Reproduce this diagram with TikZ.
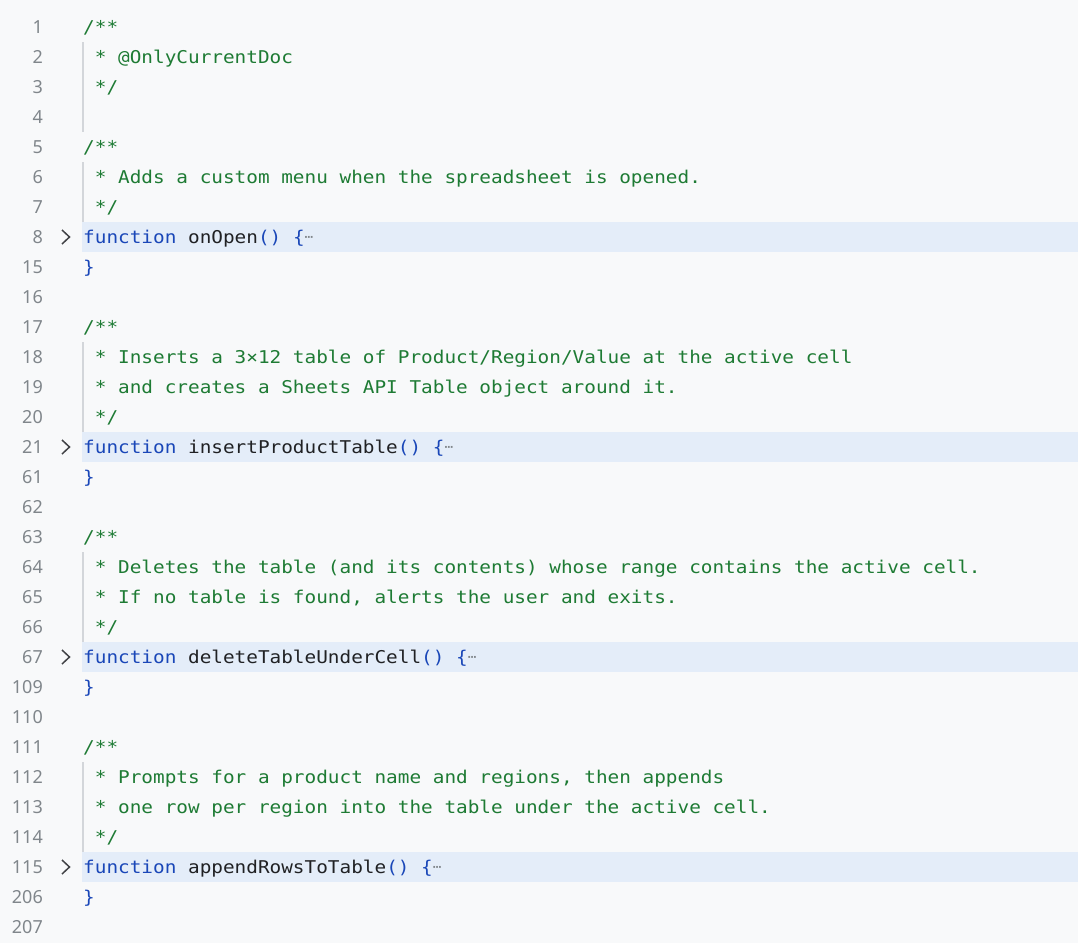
\documentclass[tikz,border=0pt]{standalone}
\usepackage{fontspec}
\newfontfamily\code[FakeStretch=1.1]{DejaVu Sans Mono}
\newfontfamily\nums{Noto Sans}
\definecolor{bg}{HTML}{F8F9FA}
\definecolor{hl}{HTML}{E4EDF9}
\definecolor{cm}{HTML}{1E7B34}
\definecolor{kw}{HTML}{1A47B8}
\definecolor{nm}{HTML}{202124}
\definecolor{ln}{HTML}{80868B}
\definecolor{gd}{HTML}{D3D6DA}
\begin{document}
\begin{tikzpicture}[x=1pt,y=-1pt,
  codetxt/.style={anchor=base west,inner sep=0pt,font=\code\fontsize{17.6}{20}\selectfont,text=cm},
  numtxt/.style={anchor=base east,inner sep=0pt,font=\nums\fontsize{18}{20}\selectfont,text=ln},
  guide/.style={draw=gd,line width=1.5pt},
  chev/.style={draw=nm!85,line width=1.5pt}]
\useasboundingbox[fill=bg] (0,0) rectangle (1078,943);
\foreach \k in {7,14,21,28}{\fill[hl] (82,{27+30*\k-15}) rectangle (1078,{27+30*\k+15});}
\draw[guide] (83,42) -- (83,132);
\draw[guide] (83,162) -- (83,222);
\draw[guide] (83,342) -- (83,432);
\draw[guide] (83,552) -- (83,642);
\draw[guide] (83,762) -- (83,852);
\newcommand\fn[1]{{\color{kw}function} {\color{nm}#1}{\color{kw}() \{}{\color{ln}\fontsize{13}{13}\selectfont\raisebox{2pt}{⋯}}}
\foreach \k/\n/\c [count=\i] in {
 0/1/{/**}, 1/2/{ * @OnlyCurrentDoc}, 2/3/{ */}, 3/4/{}, 4/5/{/**},
 5/6/{ * Adds a custom menu when the spreadsheet is opened.}, 6/7/{ */},
 7/8/{\fn{onOpen}}, 8/15/{\color{kw}\}}, 9/16/{}, 10/17/{/**},
 11/18/{ * Inserts a 3×12 table of Product/Region/Value at the active cell},
 12/19/{ * and creates a Sheets API Table object around it.}, 13/20/{ */},
 14/21/{\fn{insertProductTable}}, 15/61/{\color{kw}\}}, 16/62/{}, 17/63/{/**},
 18/64/{ * Deletes the table (and its contents) whose range contains the active cell.},
 19/65/{ * If no table is found, alerts the user and exits.}, 20/66/{ */},
 21/67/{\fn{deleteTableUnderCell}}, 22/109/{\color{kw}\}}, 23/110/{}, 24/111/{/**},
 25/112/{ * Prompts for a product name and regions, then appends},
 26/113/{ * one row per region into the table under the active cell.}, 27/114/{ */},
 28/115/{\fn{appendRowsToTable}}, 29/206/{\color{kw}\}}, 30/207/{}}{
  \node[numtxt] (n\i) at (43,{27+30*\k+6.5}) {\n};
  \node[codetxt] (c\i) at (83,{27+30*\k+6.5}) {\obeyspaces\c};
}
\foreach \k in {7,14,21,28}{\draw[chev] (62,{27+30*\k-7}) -- (69.5,{27+30*\k}) -- (62,{27+30*\k+7});}
\end{tikzpicture}
\end{document}
